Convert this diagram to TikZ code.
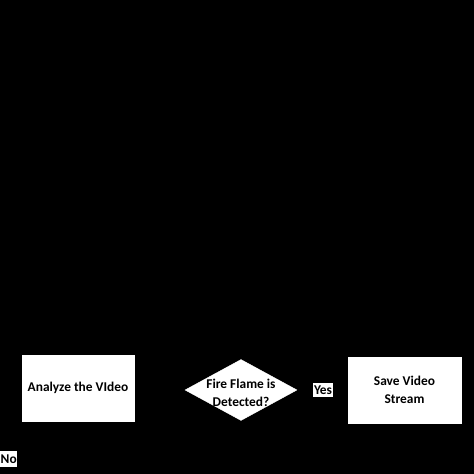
\documentclass[tikz,border=0pt]{standalone}
\usepackage{fontspec}
\setmainfont{Carlito}
\usetikzlibrary{shapes.geometric,arrows.meta}
\begin{document}
\begin{tikzpicture}[x=1pt,y=1pt,
  txt/.style={align=center,font=\bfseries\fontsize{13.4}{18}\selectfont,text=black},
  box/.style={txt,draw=white,fill=white,minimum width=112pt,minimum height=66pt,inner sep=0pt},
  decision/.style={diamond,draw=white,fill=white,minimum width=112pt,minimum height=61pt,inner sep=0pt,aspect=1.84},
  lbl/.style={fill=white,inner xsep=1pt,inner ysep=3pt,font=\bfseries\fontsize{13.4}{15}\selectfont,text=black},
  conn/.style={draw=black,-{Stealth}}]
\fill[black] (0,0) rectangle (474,474);
\useasboundingbox (0,0) rectangle (474,474);
\node[box] (analyze) at (78,86) {Analyze the VIdeo};
\node[decision,label={[txt,inner sep=0pt,yshift=-2.5pt]center:Fire Flame is\\Detected?}] (detect) at (241,84) {};
\node[box,minimum width=113pt] (save) at (404.5,84) {Save Video\\Stream};
\draw[conn] (detect.east) -- (save.west);
\node[lbl] (yes) at (323,84) {Yes};
\node[lbl,anchor=west,inner xsep=0.5pt,inner ysep=4pt] (no) at (0,15) {No};
\end{tikzpicture}
\end{document}
